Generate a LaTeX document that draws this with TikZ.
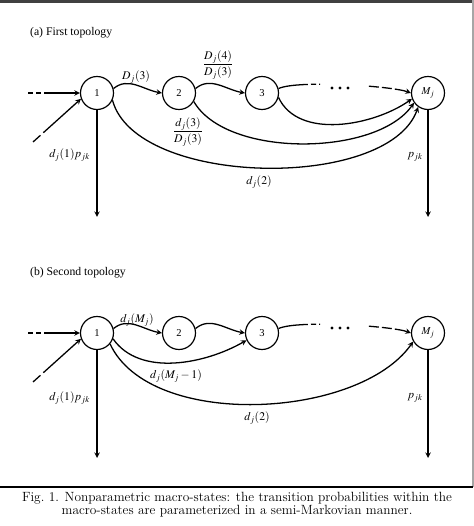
\documentclass[tikz,border=0pt]{standalone}
\usepackage{amsmath}
\usepackage{mathptmx}
\usepackage{fontspec}
\newfontfamily\timesfont{Liberation Serif}
\usepackage{tikz}

\tikzset{
  state/.style={circle,draw,line width=1pt,minimum size=0.99cm,inner sep=0pt,font=\timesfont\fontsize{9}{10}\selectfont},
  lbl/.style={font=\timesfont\fontsize{10}{12}\selectfont},
  wire/.style={line width=1.1pt},
  indash/.style={dash pattern=on 4.3pt off 2.6pt on 4.3pt off 2.6pt on 80pt},
  diagdash/.style={dash pattern=on 8.5pt off 3.4pt on 80pt},
  dotdash/.style={dash pattern=on 25.5pt off 2.6pt on 4.3pt off 2.6pt on 0.9pt off 41.7pt on 8.5pt off 2.6pt on 8.5pt off 2.6pt on 60pt}
}

\begin{document}
\begin{tikzpicture}[>=stealth,x=0.03cm,y=0.03cm]
	  \useasboundingbox (0,0) rectangle (474,526);
	  % frame
	  \fill[black!75] (0,523) rectangle (474,526);
	  \fill[black!35] (472,39) rectangle (474,526);
	  \draw[line width=1.2pt] (0,39) -- (473,39);
	  % (a) first topology
	  \node[lbl,anchor=west] at (26,493) {(a) First topology};
	  \node[state] (a1) at (97,433) {1};
	  \node[state] (a2) at (179,433) {2};
	  \node[state] (a3) at (262,433) {3};
	  \node[state] (aM) at (428,433) {$M_j$};
	  \coordinate (a0) at (28,433);
	  \coordinate (a0d) at (33,384);
	  \coordinate (a1o) at (97,309);
	  \coordinate (aMo) at (428,309);
	  \draw[wire,->,indash] (a0) -- (a1.west);
	  \draw[wire,->,diagdash] (a0d) -- (a1.200);
	  \draw[wire,->] (a1.south) -- (a1o);
	  \draw[wire,->] (aM.south) -- (aMo);
	  \draw[wire,->] (a1.15) to[out=40,in=170] (a2.west);
	  \draw[wire,->] (a2.15) to[out=40,in=170] (a3.west);
	  \draw[wire,->,dotdash] (a3.15) to[out=25,in=160,looseness=0.4] (aM.west);
	  \fill (332,438) circle[radius=1.4pt] (340,438) circle[radius=1.4pt] (348,438) circle[radius=1.4pt];
	  \draw[wire,->] (a3.-15) to[out=-65,in=-145,looseness=0.9] (aM.200);
	  \draw[wire,->] (a2.-30) to[out=-60,in=-125,looseness=0.76] (aM.215);
	  \draw[wire,->] (a1.-25) to[out=-75,in=-110,looseness=0.75] (aM.235);
	  \node[lbl] at (136,449) {$D_j(3)$};
	  \node[lbl] at (218,461) {$\dfrac{D_j(4)}{D_j(3)}$};
	  \node[lbl] at (188,394) {$\dfrac{d_j(3)}{D_j(3)}$};
	  \node[lbl] at (259,344) {$d_j(2)$};
	  \node[lbl,anchor=east] at (94,371) {$d_j(1)p_{jk}$};
	  \node[lbl] at (415,369) {$p_{jk}$};
	  % (b) second topology
	  \node[lbl,anchor=west] at (26,253) {(b) Second topology};
	  \node[state] (b1) at (97,193) {1};
	  \node[state] (b2) at (179,193) {2};
	  \node[state] (b3) at (262,193) {3};
	  \node[state] (bM) at (428,193) {$M_j$};
	  \coordinate (b0) at (28,193);
	  \coordinate (b0d) at (33,144);
	  \coordinate (b1o) at (97,68);
	  \coordinate (bMo) at (428,68);
	  \draw[wire,->,indash] (b0) -- (b1.west);
	  \draw[wire,->,diagdash] (b0d) -- (b1.200);
	  \draw[wire,->] (b1.south) -- (b1o);
	  \draw[wire,->] (bM.south) -- (bMo);
	  \draw[wire,->] (b1.15) to[out=40,in=170] (b2.west);
	  \draw[wire,->] (b2.15) to[out=40,in=170] (b3.west);
	  \draw[wire,->,dotdash] (b3.15) to[out=25,in=160,looseness=0.4] (bM.west);
	  \fill (332,198) circle[radius=1.4pt] (340,198) circle[radius=1.4pt] (348,198) circle[radius=1.4pt];
	  \draw[wire,->] (b1.-20) to[out=-55,in=-150,looseness=0.9] (b3.205);
	  \draw[wire,->] (b1.-40) to[out=-65,in=-125,looseness=0.8] (bM.210);
	  \node[lbl] at (137,206) {$d_j(M_j)$};
	  \node[lbl] at (176,150) {$d_j(M_j-1)$};
	  \node[lbl] at (257,108) {$d_j(2)$};
	  \node[lbl,anchor=east] at (94,128) {$d_j(1)p_{jk}$};
	  \node[lbl] at (415,128) {$p_{jk}$};
	  % caption
	  \node[align=center,font=\fontfamily{lmr}\fontsize{11.4}{10}\selectfont] (cap) at (237,21)
	    {Fig.~1. Nonparametric macro-states: the transition probabilities within the\\
	     macro-states are parameterized in a semi-Markovian manner.};
	\end{tikzpicture}
\end{document}
